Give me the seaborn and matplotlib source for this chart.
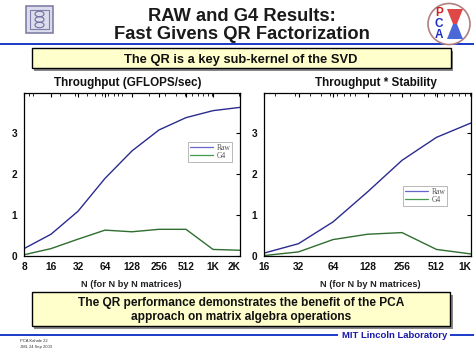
import matplotlib
matplotlib.use("Agg")
import matplotlib.pyplot as plt
import matplotlib.patches as mpatches
from matplotlib.lines import Line2D
from matplotlib.ticker import LogLocator, NullFormatter
import seaborn as sns
import pandas as pd

# ---------------- data ----------------
left_n = [8, 16, 32, 64, 128, 256, 512, 1024, 2048]
left_raw = [0.18, 0.53, 1.09, 1.89, 2.56, 3.07, 3.37, 3.54, 3.62]
left_g4 = [0.03, 0.18, 0.41, 0.63, 0.59, 0.65, 0.65, 0.16, 0.14]
left_ticklabels = ["8", "16", "32", "64", "128", "256", "512", "1K", "2K"]

right_n = [16, 32, 64, 128, 256, 512, 1024]
right_raw = [0.07, 0.30, 0.83, 1.56, 2.33, 2.89, 3.24]
right_g4 = [0.01, 0.10, 0.40, 0.53, 0.57, 0.16, 0.05]
right_ticklabels = ["16", "32", "64", "128", "256", "512", "1K"]

series_names = ["Raw", "G4"]
y_ticks = [0, 1, 2, 3]

title_lines = ["RAW and G4 Results:", "Fast Givens QR Factorization"]
top_box_text = "The QR is a key sub-kernel of the SVD"
left_subtitle = "Throughput (GFLOPS/sec)"
right_subtitle = "Throughput * Stability"
x_label = "N (for N by N matrices)"
bottom_box_lines = ["The QR performance demonstrates the benefit of the PCA",
                    "approach on matrix algebra operations"]
footer_right = "MIT Lincoln Laboratory"
footer_left = ["PCA Kahale 22", "JML 24 Sep 2003"]

# ---------------- style ----------------
sns.set_style("white")
plt.rcParams["font.family"] = ["Liberation Sans", "DejaVu Sans"]

W, H = 474, 355
fig = plt.figure(figsize=(W / 100, H / 100), dpi=100)
fig.patch.set_facecolor("white")

# overlay in pixel coordinates for slide decorations
ov = fig.add_axes([0, 0, 1, 1])
ov.set_xlim(0, W)
ov.set_ylim(H, 0)
ov.axis("off")
ov.patch.set_alpha(0)

BLUE = "#1f3fc8"
YELLOW = "#ffffcc"
RAW_C = "#2b2b8f"
G4_C = "#2f6e2f"

# title
ov.text(W / 2 + 5, 20.7, title_lines[0], ha="center", va="baseline",
        fontsize=13.2, fontweight="bold", color="#1a1a1a")
ov.text(W / 2 + 5, 39.3, title_lines[1], ha="center", va="baseline",
        fontsize=13.2, fontweight="bold", color="#1a1a1a")
ov.add_patch(mpatches.Rectangle((0, 42.5), W, 2.3, color=BLUE, lw=0))

# left logo
ov.add_patch(mpatches.Rectangle((26, 6), 27, 27, facecolor="#dcdcec",
                                edgecolor="#8080a8", lw=1.2))
ov.add_patch(mpatches.Rectangle((30, 10), 19, 19, facecolor="none",
                                edgecolor="#8080a8", lw=0.8))
for cy in (14, 19.5, 25):
    ov.add_patch(mpatches.Ellipse((39.5, cy), 9, 5.5, facecolor="none",
                                  edgecolor="#7070a0", lw=0.8))

# right logo
ov.add_patch(mpatches.Ellipse((449, 24), 42, 41, facecolor="white",
                              edgecolor="#b08080", lw=1.2))
ov.text(439, 13, "P", ha="center", va="center", fontsize=8.5,
        fontweight="bold", color="#d02020")
ov.text(439, 24, "C", ha="center", va="center", fontsize=8.5,
        fontweight="bold", color="#2030c0")
ov.text(439, 35, "A", ha="center", va="center", fontsize=8.5,
        fontweight="bold", color="#2030c0")
ov.add_patch(mpatches.Polygon([[447, 9], [463, 9], [457, 24], [453, 24]],
                              closed=True, color="#e04848", lw=0))
ov.add_patch(mpatches.Polygon([[447, 39], [463, 39], [457, 24], [453, 24]],
                              closed=True, color="#4a68d8", lw=0))

# top yellow box with shadow
ov.add_patch(mpatches.Rectangle((34.5, 51), 419, 20, facecolor="#888888",
                                lw=0))
ov.add_patch(mpatches.Rectangle((31.7, 48.3), 419, 20, facecolor=YELLOW,
                                edgecolor="black", lw=1.0))
ov.text(241, 63.5, top_box_text, ha="center", va="baseline",
        fontsize=9.3, fontweight="bold", color="#111111")

# subtitles
ov.text(128, 86, left_subtitle, ha="center", va="baseline",
        fontsize=8.4, fontweight="bold", color="#111111")
ov.text(376, 86, right_subtitle, ha="center", va="baseline",
        fontsize=8.4, fontweight="bold", color="#111111")

# x labels
ov.text(131, 287, x_label, ha="center", va="baseline",
        fontsize=6.7, fontweight="bold", color="#222222")
ov.text(370, 287, x_label, ha="center", va="baseline",
        fontsize=6.7, fontweight="bold", color="#222222")

# bottom yellow box with shadow
ov.add_patch(mpatches.Rectangle((34.5, 294.5), 418.5, 34, facecolor="#888888",
                                lw=0))
ov.add_patch(mpatches.Rectangle((31.7, 291.7), 418.5, 34, facecolor=YELLOW,
                                edgecolor="black", lw=1.0))
ov.text(241, 305.7, bottom_box_lines[0], ha="center", va="baseline",
        fontsize=8.6, fontweight="bold", color="#111111")
ov.text(241, 320, bottom_box_lines[1], ha="center", va="baseline",
        fontsize=8.6, fontweight="bold", color="#111111")

# footer
ov.add_patch(mpatches.Rectangle((0, 333.5), 338, 2.2, color=BLUE, lw=0))
ov.add_patch(mpatches.Rectangle((450, 333.5), 24, 2.2, color=BLUE, lw=0))
ov.text(395, 337.7, footer_right, ha="center", va="baseline",
        fontsize=6.8, fontweight="bold", color="#1a1aa8")
ov.text(20, 342, footer_left[0], ha="left", va="baseline",
        fontsize=3, color="#333333")
ov.text(20, 348, footer_left[1], ha="left", va="baseline",
        fontsize=3, color="#333333")


# ---------------- charts ----------------
def make_chart(rect, n, raw, g4, ticklabels, legend_anchor):
    ax = fig.add_axes(rect)
    df = pd.DataFrame({
        "N": n + n,
        "value": raw + g4,
        "series": [series_names[0]] * len(n) + [series_names[1]] * len(n),
    })
    sns.lineplot(data=df, x="N", y="value", hue="series",
                 palette={series_names[0]: RAW_C, series_names[1]: G4_C},
                 linewidth=1.0, ax=ax, legend=False)
    ax.set_xscale("log", base=2)
    ax.set_xlim(n[0], n[-1])
    ax.set_ylim(0, 3.97)
    ax.set_xticks(n)
    ax.set_xticklabels(ticklabels)
    ax.xaxis.set_minor_locator(LogLocator(base=10, subs=range(1, 10)))
    ax.xaxis.set_minor_formatter(NullFormatter())
    ax.set_yticks(y_ticks)
    ax.set_yticklabels([str(v) for v in y_ticks])
    ax.set_xlabel("")
    ax.set_ylabel("")
    ax.set_facecolor("white")
    for s in ax.spines.values():
        s.set_color("black")
        s.set_linewidth(0.9)
    ax.tick_params(which="both", direction="in", top=True, right=True,
                   color="black")
    ax.tick_params(which="major", length=3, width=0.8)
    ax.tick_params(which="minor", length=1.8, width=0.6)
    ax.tick_params(axis="x", which="major", pad=4, labelsize=7.3)
    ax.tick_params(axis="y", which="major", pad=5, labelsize=7.3)
    for lab in ax.get_xticklabels() + ax.get_yticklabels():
        lab.set_fontweight("bold")
        lab.set_color("#111111")
    ax.get_xticklabels()[-1].set_horizontalalignment("right")
    handles = [Line2D([0], [0], color="#6666cc", lw=0.9),
               Line2D([0], [0], color="#44994a", lw=0.9)]
    leg = ax.legend(handles, series_names, loc="upper left",
                    bbox_to_anchor=legend_anchor,
                    prop={"family": ["Liberation Serif", "DejaVu Serif"],
                          "size": 5.5},
                    frameon=True, fancybox=False, handlelength=3.0,
                    handletextpad=0.5, borderpad=0.25, labelspacing=0.0,
                    borderaxespad=0)
    leg.get_frame().set_edgecolor("#999999")
    leg.get_frame().set_linewidth(0.6)
    for t in leg.get_texts():
        t.set_color("#555555")
    return ax


make_chart([24 / W, 1 - 256 / H, 216 / W, 163 / H],
           left_n, left_raw, left_g4, left_ticklabels, (0.759, 0.699))
make_chart([264 / W, 1 - 256 / H, 207 / W, 163 / H],
           right_n, right_raw, right_g4, right_ticklabels, (0.671, 0.429))

fig.savefig("out.png", dpi=100, facecolor="white")
